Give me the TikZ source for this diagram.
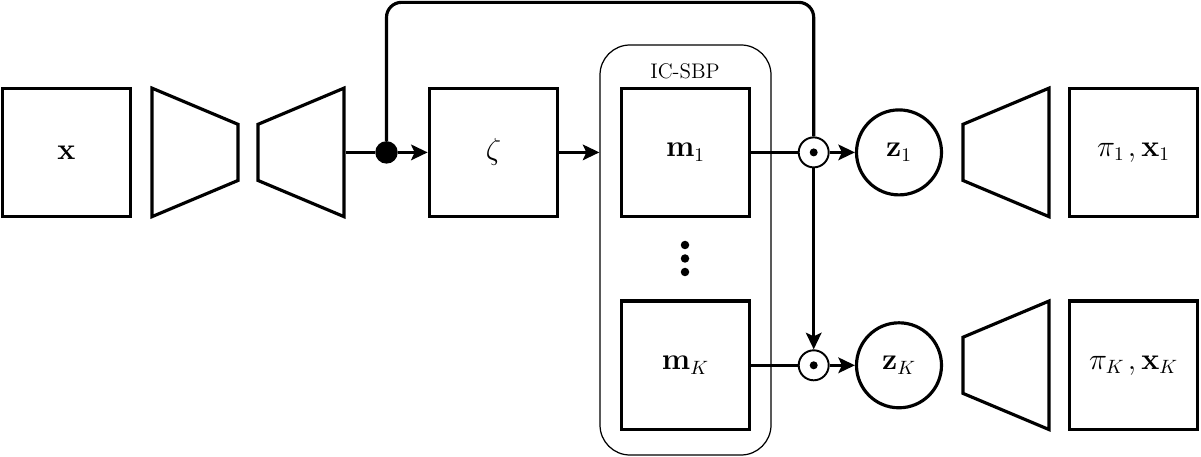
\documentclass[tikz,border=0pt]{standalone}
\usepackage{amsmath}
\usetikzlibrary{arrows.meta,shapes.geometric}
\tikzset{
    wire/.style={line width=1.8pt, >={Stealth[length=0.33cm,width=0.31cm,inset=0.07cm]}},
    block/.style={rectangle, draw, line width=1.8pt, minimum width=2.57cm, minimum height=2.57cm, font=\fontsize{16}{19}\selectfont, inner sep=0pt},
    funnel/.style={trapezium, draw, line width=1.8pt, trapezium stretches=true, minimum width=2.57cm, minimum height=1.72cm, trapezium left angle=57.2, trapezium right angle=57.2, inner sep=2pt},
    latent/.style={circle, draw, line width=1.8pt, minimum size=1.7cm, font=\fontsize{16}{19}\selectfont, inner sep=0pt},
    product/.style={circle, draw, fill=white, line width=1.1pt, minimum size=0.6cm, inner sep=0pt, path picture={\fill[black] (path picture bounding box.center) circle (0.08);}},
    branch/.style={circle, fill=black, minimum size=0.45cm, inner sep=0pt},
    vdot/.style={circle, fill=black, minimum size=0.17cm, inner sep=0pt}
}
\begin{document}
\begin{tikzpicture}
    \useasboundingbox (0,0) rectangle (24.02,9.12);
    \node[rectangle, draw, line width=0.7pt, rounded corners=0.6cm, minimum width=3.42cm, minimum height=8.2cm] (sbp) at (13.71, 4.12) {};
    \node[font=\large] (sbplabel) at (13.7, 7.7) {IC-SBP};

    \node[block] (input) at (1.33, 6.072) {$\mathbf{x}$};
    \node[funnel, shape border rotate=270] (encoder) at (3.9, 6.072) {};
    \node[funnel, shape border rotate=90] (decoder) at (6.02, 6.072) {};
    \node[branch] (split) at (7.73, 6.072) {};
    \node[block] (zeta) at (9.87, 6.072) {$\zeta$};
    \node[block] (m1) at (13.71, 6.072) {$\mathbf{m}_1$};
    \node[block] (mK) at (13.71, 1.814) {$\mathbf{m}_K$};
    \foreach \i/\y in {1/4.22, 2/3.95, 3/3.68}
        \node[vdot] (dot\i) at (13.7, \y) {};
    \node[product] (prod1) at (16.274, 6.072) {};
    \node[product] (prodK) at (16.274, 1.814) {};
    \node[latent] (z1) at (17.98, 6.072) {$\mathbf{z}_1$};
    \node[latent] (zK) at (17.98, 1.814) {$\mathbf{z}_K$};
    \node[funnel, shape border rotate=90] (dec1) at (20.12, 6.072) {};
    \node[funnel, shape border rotate=90] (decK) at (20.12, 1.814) {};
    \node[block] (out1) at (22.67, 6.072) {$\pi_1\mkern2mu, \mathbf{x}_1$};
    \node[block] (outK) at (22.67, 1.814) {$\pi_K\mkern2mu, \mathbf{x}_K$};
    \coordinate (top) at (16.274, 9.073);

    \draw[wire] (decoder.east) -- (split);
    \draw[wire, ->] (split) -- (zeta);
    \draw[wire, ->] (zeta.east) -- (zeta.east -| sbp.west);
    \draw[wire, rounded corners=0.3cm] (split) |- (top) -- (prod1);
    \draw[wire, ->] (prod1) -- (prodK);
    \draw[wire] (m1) -- (prod1);
    \draw[wire] (mK) -- (prodK);
    \draw[wire, ->] (prod1) -- (z1);
    \draw[wire, ->] (prodK) -- (zK);
\end{tikzpicture}
\end{document}
